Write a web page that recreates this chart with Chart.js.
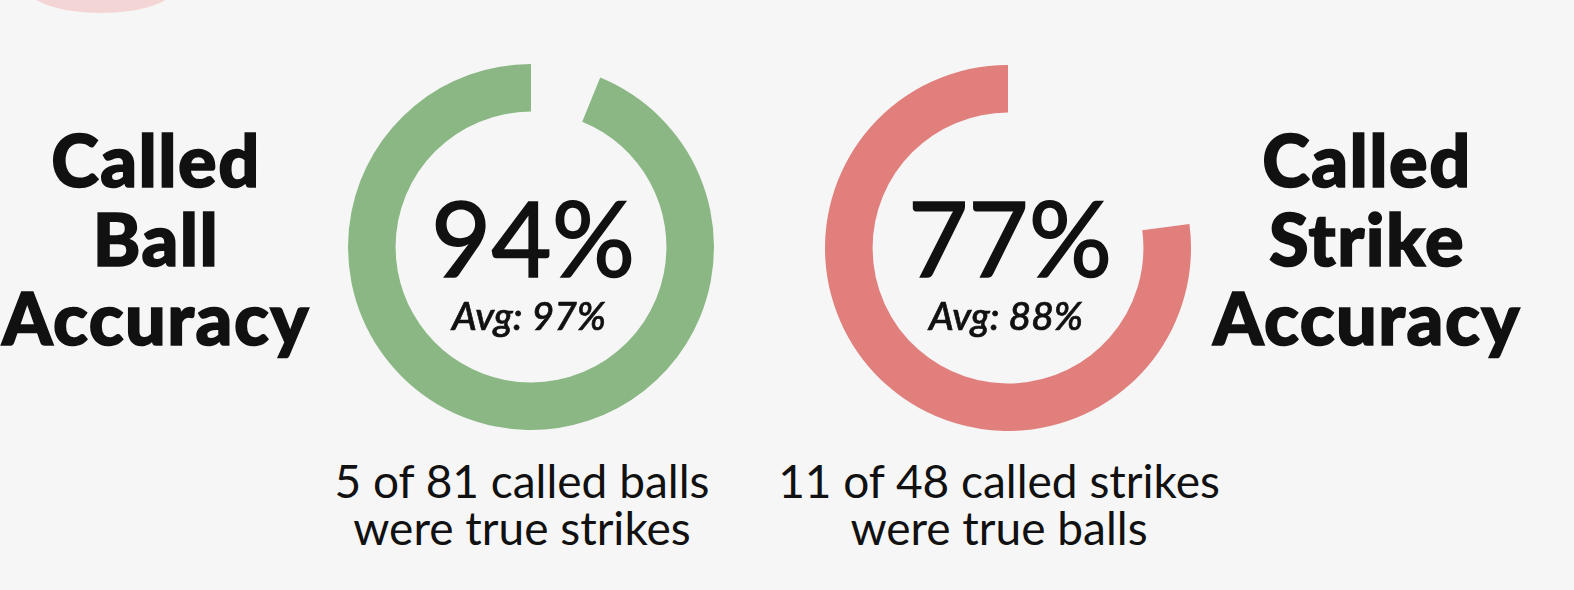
<!DOCTYPE html>
<html>
<head>
<meta charset="utf-8">
<script src="https://cdn.jsdelivr.net/npm/chart.js@4.4.1/dist/chart.umd.min.js"></script>
<style>
  html, body { margin: 0; padding: 0; }
  body { width: 1574px; height: 590px; background: #f6f6f6; position: relative; overflow: hidden; font-family: Lato, "Noto Sans", sans-serif; color: #111; }
  .blob { position: absolute; left: 26px; top: -40px; width: 150px; height: 53px; border-radius: 50%; background: #f4d5d5; }
  .title { position: absolute; width: 400px; text-align: center; font-size: 72px; font-weight: 900; line-height: 79px; letter-spacing: 1.5px; -webkit-text-stroke: 1.6px #111; }
  .ring { position: absolute; width: 366px; height: 366px; }
  .pct { position: absolute; width: 366px; text-align: center; font-size: 104px; line-height: 104px; font-weight: 400; -webkit-text-stroke: 1.6px #111; }
  .avg { position: absolute; width: 366px; text-align: center; font-size: 39px; line-height: 39px; font-style: italic; font-weight: 500; -webkit-text-stroke: 0.7px #111; }
  .note { position: absolute; width: 560px; text-align: center; font-size: 46px; line-height: 47px; font-weight: 400; }
</style>
</head>
<body>
<div class="blob"></div>
<div id="page"></div>
<script>
// values
const panelTitles = [['Called', 'Ball', 'Accuracy'], ['Called', 'Strike', 'Accuracy']];
const correctCalls = [76, 37];
const missedCalls = [5, 11];
const pctLabels = ['94%', '77%'];
const avgLabels = ['Avg: 97%', 'Avg: 88%'];
const noteLines = [['5 of 81 called balls', 'were true strikes'], ['11 of 48 called strikes', 'were true balls']];
const ringColors = ['rgb(138, 183, 132)', 'rgb(224, 127, 124)'];

// layout
const ringCenters = [[531, 247], [1008, 248]];
const ringRadius = 183;
const titleCenters = [156, 1367];

const page = document.getElementById('page');

function addDiv(cls, html, left, top) {
    const d = document.createElement('div');
    d.className = cls;
    d.innerHTML = html;
    d.style.left = left + 'px';
    d.style.top = top + 'px';
    page.appendChild(d);
    return d;
}

for (let i = 0; i < 2; i++) {
    const cx = ringCenters[i][0];
    const cy = ringCenters[i][1];

    addDiv('title', panelTitles[i].join('<br>'), titleCenters[i] - 200, 120);

    const box = addDiv('ring', '', cx - ringRadius, cy - ringRadius);
    const canvas = document.createElement('canvas');
    box.appendChild(canvas);

    new Chart(canvas, {
        type: 'doughnut',
        data: {
            labels: ['Missed', 'Correct'],
            datasets: [{
                data: [missedCalls[i], correctCalls[i]],
                backgroundColor: ['rgba(0,0,0,0)', ringColors[i]],
                borderWidth: 0
            }]
        },
        options: {
            responsive: true,
            maintainAspectRatio: false,
            animation: false,
            cutout: '74%',
            plugins: { legend: { display: false }, tooltip: { enabled: false } }
        }
    });

    addDiv('pct', pctLabels[i], cx - ringRadius + 2, 185);
    addDiv('avg', avgLabels[i], cx - ringRadius - 2, 296);
    addDiv('note', noteLines[i].join('<br>'), cx - 280 - 9, 457);
}
</script>
</body>
</html>
